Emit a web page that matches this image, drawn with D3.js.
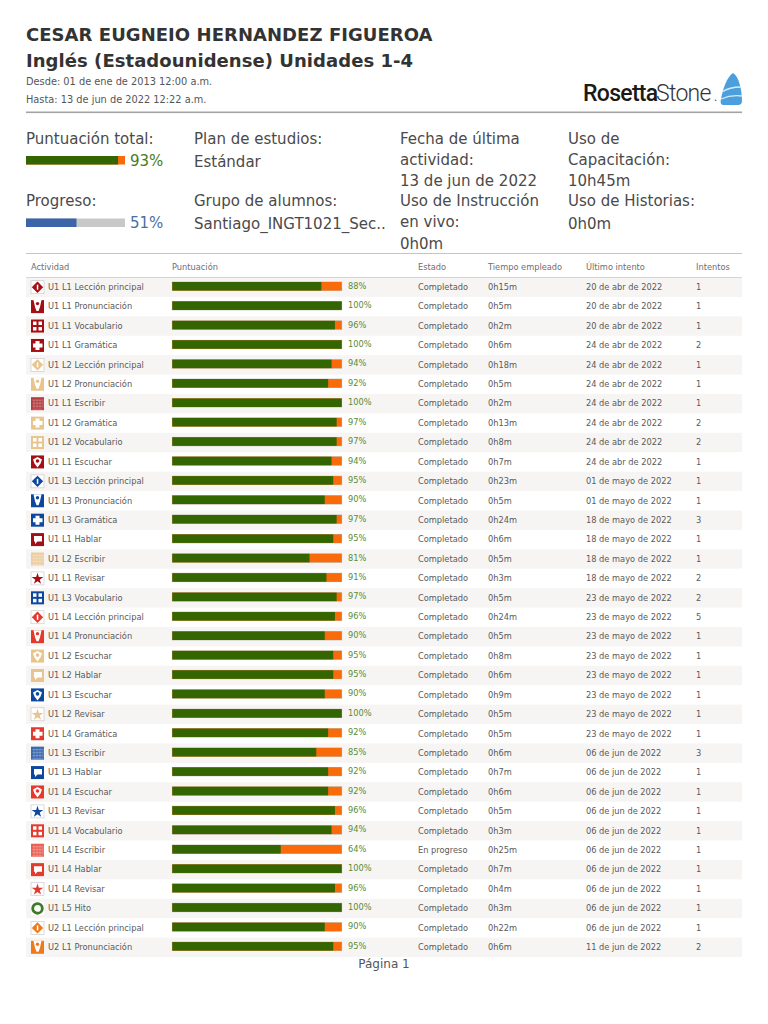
<!DOCTYPE html>
<html>
<head>
<meta charset="utf-8">
<script src="https://cdn.jsdelivr.net/npm/d3@7/dist/d3.min.js"></script>
<style>
    html, body { margin: 0; padding: 0; background: #fff; }
    svg { display: block; }
    text { font-family: "DejaVu Sans", sans-serif; }
</style>
</head>
<body>
<div class="canvas"></div>
<script>
const activities = [
    "U1 L1 Lección principal", "U1 L1 Pronunciación", "U1 L1 Vocabulario", "U1 L1 Gramática",
    "U1 L2 Lección principal", "U1 L2 Pronunciación", "U1 L1 Escribir", "U1 L2 Gramática",
    "U1 L2 Vocabulario", "U1 L1 Escuchar", "U1 L3 Lección principal", "U1 L3 Pronunciación",
    "U1 L3 Gramática", "U1 L1 Hablar", "U1 L2 Escribir", "U1 L1 Revisar",
    "U1 L3 Vocabulario", "U1 L4 Lección principal", "U1 L4 Pronunciación", "U1 L2 Escuchar",
    "U1 L2 Hablar", "U1 L3 Escuchar", "U1 L2 Revisar", "U1 L4 Gramática",
    "U1 L3 Escribir", "U1 L3 Hablar", "U1 L4 Escuchar", "U1 L3 Revisar",
    "U1 L4 Vocabulario", "U1 L4 Escribir", "U1 L4 Hablar", "U1 L4 Revisar",
    "U1 L5 Hito", "U2 L1 Lección principal", "U2 L1 Pronunciación"
];
const scores = [88, 100, 96, 100, 94, 92, 100, 97, 97, 94, 95, 90, 97, 95, 81, 91, 97, 96, 90, 95, 95, 90, 100, 92, 85, 92, 92, 96, 94, 64, 100, 96, 100, 90, 95];
const times = ["0h15m", "0h5m", "0h2m", "0h6m", "0h18m", "0h5m", "0h2m", "0h13m", "0h8m", "0h7m", "0h23m", "0h5m", "0h24m", "0h6m", "0h5m", "0h3m", "0h5m", "0h24m", "0h5m", "0h8m", "0h6m", "0h9m", "0h5m", "0h5m", "0h6m", "0h7m", "0h6m", "0h5m", "0h3m", "0h25m", "0h7m", "0h4m", "0h3m", "0h22m", "0h6m"];
const dates = [
    "20 de abr de 2022", "20 de abr de 2022", "20 de abr de 2022", "24 de abr de 2022",
    "24 de abr de 2022", "24 de abr de 2022", "24 de abr de 2022", "24 de abr de 2022",
    "24 de abr de 2022", "24 de abr de 2022", "01 de mayo de 2022", "01 de mayo de 2022",
    "18 de mayo de 2022", "18 de mayo de 2022", "18 de mayo de 2022", "18 de mayo de 2022",
    "23 de mayo de 2022", "23 de mayo de 2022", "23 de mayo de 2022", "23 de mayo de 2022",
    "23 de mayo de 2022", "23 de mayo de 2022", "23 de mayo de 2022", "23 de mayo de 2022",
    "06 de jun de 2022", "06 de jun de 2022", "06 de jun de 2022", "06 de jun de 2022",
    "06 de jun de 2022", "06 de jun de 2022", "06 de jun de 2022", "06 de jun de 2022",
    "06 de jun de 2022", "06 de jun de 2022", "11 de jun de 2022"
];
const attempts = [1, 1, 1, 2, 1, 1, 1, 2, 2, 1, 1, 1, 3, 1, 1, 2, 2, 5, 1, 1, 1, 1, 1, 1, 3, 1, 1, 1, 1, 1, 1, 1, 1, 1, 2];
const states = activities.map((d, i) => (i === 29 ? "En progreso" : "Completado"));
const headers = ["Actividad", "Puntuación", "Estado", "Tiempo empleado", "Último intento", "Intentos"];

const width = 768;
const height = 1024;
const green = "#336600";
const orange = "#f96b0a";
const lessonColor = { "U1 L1": "#a30f14", "U1 L2": "#e8c48f", "U1 L3": "#0d479e", "U1 L4": "#e5392d", "U1 L5": "#3f7a2a", "U2 L1": "#ef7a1a" };

const svg = d3
    .select(".canvas")
    .append("svg")
    .attr("width", width)
    .attr("height", height);

const addText = (x, y, str, size, fill, weight) =>
    svg
        .append("text")
        .attr("x", x)
        .attr("y", y)
        .attr("font-size", size)
        .attr("fill", fill)
        .attr("font-weight", weight || "normal")
        .text(str);

// heading
addText(26, 41, "CESAR EUGNEIO HERNANDEZ FIGUEROA", 18, "#333", "bold").attr("letter-spacing", 0.05);
addText(26, 66.5, "Inglés (Estadounidense) Unidades 1-4", 18, "#333", "bold").attr("letter-spacing", 0.05);
addText(26, 85, "Desde: 01 de ene de 2013 12:00 a.m.", 9.8, "#555");
addText(26, 103, "Hasta: 13 de jun de 2022 12:22 a.m.", 9.8, "#555");

svg.append("rect").attr("x", 26).attr("y", 111.5).attr("width", 716).attr("height", 1.6).attr("fill", "#a3a3a3");
svg.append("rect").attr("x", 26).attr("y", 253).attr("width", 716).attr("height", 1).attr("fill", "#c4c4c4");

// logo
addText(583, 101, "Rosetta", 23, "#1a1a1a", 500)
    .style("font-family", "Roboto, sans-serif")
    .attr("letter-spacing", -0.7);
addText(656, 101, "Stone", 23, "#333", 300)
    .style("font-family", "Roboto, sans-serif")
    .attr("letter-spacing", -0.7);
addText(714, 101, ".", 10, "#333");
const sail = svg.append("g").attr("transform", "translate(720,73)");
sail.append("path")
    .attr("d", "M13,0 C19,3 22,18 22,28 C22,31 20,32 18,32 L4,32 C1,32 0,30 1,26 C3,15 7,4 13,0 Z")
    .attr("fill", "#4a9fdc");
sail.append("path").attr("d", "M2,19 C8,15 15,14 21,14").attr("fill", "none").attr("stroke", "#d5ecf8").attr("stroke-width", 1.3);
sail.append("path").attr("d", "M1,26 C8,23 15,22 22,23").attr("fill", "none").attr("stroke", "#d5ecf8").attr("stroke-width", 1.3);

// summary block
const summary = [
    [26, 144, "Puntuación total:"],
    [26, 206, "Progreso:"],
    [194, 144, "Plan de estudios:"],
    [194, 167, "Estándar"],
    [194, 206, "Grupo de alumnos:"],
    [194, 229, "Santiago_INGT1021_Sec.."],
    [400, 144, "Fecha de última"],
    [400, 165, "actividad:"],
    [400, 186, "13 de jun de 2022"],
    [400, 206, "Uso de Instrucción"],
    [400, 227, "en vivo:"],
    [400, 249, "0h0m"],
    [568, 144, "Uso de"],
    [568, 165, "Capacitación:"],
    [568, 186, "10h45m"],
    [568, 206, "Uso de Historias:"],
    [568, 229, "0h0m"]
];
summary.forEach((d) => addText(d[0], d[1], d[2], 15, "#4a4a4a"));

const xTotal = d3.scaleLinear().domain([0, 100]).range([26, 125]);
const summaryBars = [
    { y: 156, value: 93, fill: green, rest: orange, color: "#4b7a1e" },
    { y: 218.5, value: 51, fill: "#3b65a8", rest: "#c8c8c8", color: "#4a6fa5" }
];
summaryBars.forEach((d) => {
    svg.append("rect").attr("x", xTotal(0)).attr("y", d.y).attr("width", xTotal(100) - xTotal(0)).attr("height", 8.5).attr("fill", d.rest);
    svg.append("rect").attr("x", xTotal(0)).attr("y", d.y).attr("width", xTotal(d.value) - xTotal(0)).attr("height", 8.5).attr("fill", d.fill);
    addText(130, d.y + 9.5, `${d.value}%`, 15, d.color);
});

// table
const y = d3
    .scaleBand()
    .domain(d3.range(activities.length))
    .range([277.5, 957])
    .paddingInner(0);
const x = d3.scaleLinear().domain([0, 100]).range([172.3, 341.7]);
const cols = { actividad: 48, estado: 418, tiempo: 488, fecha: 586, intentos: 696 };
const small = 8.25;

[31, 172, cols.estado, cols.tiempo, cols.fecha, cols.intentos].forEach((cx, i) => {
    addText(cx, 269.5, headers[i], small, "#6e6e6e");
});
svg.append("rect").attr("x", 26).attr("y", 277).attr("width", 716).attr("height", 1).attr("fill", "#b5b5b5");

const rows = svg
    .selectAll("g.row")
    .data(activities)
    .enter()
    .append("g")
    .attr("class", "row")
    .attr("transform", (d, i) => `translate(0,${y(i)})`);

// stripes
rows.filter((d, i) => i % 2 === 0)
    .append("rect")
    .attr("x", 26)
    .attr("width", 716)
    .attr("height", y.bandwidth())
    .attr("fill", "#f6f5f3");

// icons, kind comes from the activity name
const star = d3.symbol().type(d3.symbolStar).size(42);
const drawIcon = function (name) {
    const g = d3.select(this).append("g").attr("transform", `translate(31,${y.bandwidth() / 2 - 6.5})`);
    const color = lessonColor[name.slice(0, 5)];
    const kind = name.slice(6);
    const outlined = kind === "Lección principal" || kind === "Revisar";
    g.append("rect")
        .attr("width", 13)
        .attr("height", 13)
        .attr("fill", outlined || kind === "Hito" ? "#fff" : color)
        .attr("stroke", outlined ? "#c4c4c4" : "none")
        .attr("stroke-width", 0.6);
    if (kind === "Lección principal") {
        g.append("path").attr("d", "M6.5,0.8 L12.2,6.5 L6.5,12.2 L0.8,6.5 Z").attr("fill", color);
        g.append("rect").attr("x", 5.8).attr("y", 4).attr("width", 1.5).attr("height", 5).attr("fill", "#fff");
    } else if (kind === "Pronunciación") {
        g.append("path").attr("d", "M2.5,0 L10.5,0 L9,7 L7.5,11 L5.5,11 L4,7 Z").attr("fill", "#fff");
        g.append("circle").attr("cx", 6.5).attr("cy", 3.5).attr("r", 1.7).attr("fill", color);
    } else if (kind === "Vocabulario") {
        [[2, 2], [7.5, 2], [2, 7.5], [7.5, 7.5]].forEach((p) => {
            g.append("rect").attr("x", p[0]).attr("y", p[1]).attr("width", 3.5).attr("height", 3.5).attr("fill", "#fff");
        });
    } else if (kind === "Gramática") {
        g.append("path").attr("d", "M4.5,2 H8.5 V4.5 H11.5 V8.5 H8.5 V11 H4.5 V8.5 H2 V4.5 H4.5 Z").attr("fill", "#fff");
    } else if (kind === "Escribir") {
        g.select("rect").attr("opacity", 0.8);
        d3.range(3, 13, 3).forEach((p) => {
            g.append("line").attr("x1", p).attr("x2", p).attr("y1", 2).attr("y2", 11).attr("stroke", "#fff").attr("stroke-opacity", 0.35).attr("stroke-width", 0.7);
            g.append("line").attr("x1", 1.5).attr("x2", 11.5).attr("y1", p).attr("y2", p).attr("stroke", "#fff").attr("stroke-opacity", 0.35).attr("stroke-width", 0.7);
        });
    } else if (kind === "Escuchar") {
        g.append("path").attr("d", "M2,4 L6.5,1.5 L11,4 L9.5,8 L6.5,12 L3.5,8 Z").attr("fill", "#fff");
        g.append("circle").attr("cx", 6.5).attr("cy", 5.5).attr("r", 1.8).attr("fill", color);
    } else if (kind === "Hablar") {
        g.append("path").attr("d", "M3,3 H11 V8.5 H6.5 L4,11 V8.5 H3 Z").attr("fill", "#fff");
    } else if (kind === "Revisar") {
        g.append("path").attr("d", star()).attr("transform", "translate(6.5,7)").attr("fill", color);
    } else if (kind === "Hito") {
        g.append("circle").attr("cx", 6.5).attr("cy", 6.5).attr("r", 4.8).attr("fill", "none").attr("stroke", color).attr("stroke-width", 2.8);
    }
};
rows.each(drawIcon);

const textY = y.bandwidth() / 2 + 2.8;
const cell = (cx, value, fill) =>
    rows
        .append("text")
        .attr("x", cx)
        .attr("y", textY)
        .attr("font-size", small)
        .attr("fill", fill || "#5a5a5a")
        .text(value);

cell(cols.actividad, (d) => d);
cell(cols.estado, (d, i) => states[i]);
cell(cols.tiempo, (d, i) => times[i]);
cell(cols.fecha, (d, i) => dates[i]);
cell(cols.intentos, (d, i) => attempts[i]);

// score bars
const barH = 8.5;
const barY = y.bandwidth() / 2 - 5.2;
rows.append("rect")
    .attr("x", x(0) - 0.4)
    .attr("y", barY - 0.4)
    .attr("width", x(100) - x(0) + 0.8)
    .attr("height", barH + 0.8)
    .attr("fill", "#b9b9a9");
rows.append("rect")
    .attr("x", x(0))
    .attr("y", barY)
    .attr("width", x(100) - x(0))
    .attr("height", barH)
    .attr("fill", orange);
rows.append("rect")
    .attr("x", x(0))
    .attr("y", barY)
    .attr("width", (d, i) => x(scores[i]) - x(0))
    .attr("height", barH)
    .attr("fill", green);
rows.append("text")
    .attr("x", x(100) + 6.3)
    .attr("y", barY + 6.8)
    .attr("font-size", small)
    .attr("fill", "#5c8a35")
    .text((d, i) => `${scores[i]}%`);

// footer
addText(384, 968, "Página 1", 12, "#555").attr("text-anchor", "middle");
</script>
</body>
</html>
